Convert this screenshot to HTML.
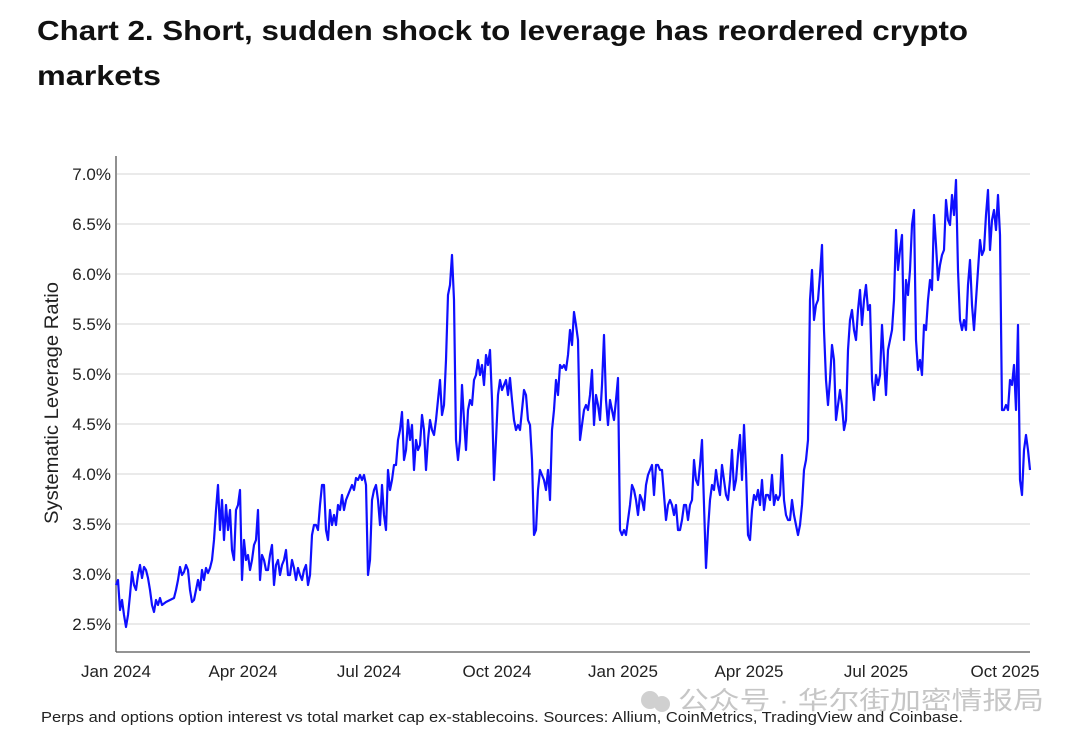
<!DOCTYPE html>
<html><head><meta charset="utf-8"><style>
html,body{margin:0;padding:0;background:#fff;}
svg{display:block;}
text{font-family:"Liberation Sans",Arial,sans-serif;}
</style></head><body>
<svg width="1080" height="744" viewBox="0 0 1080 744" xmlns="http://www.w3.org/2000/svg">
<text x="37" y="40" font-size="28" font-weight="bold" fill="#111" textLength="931" lengthAdjust="spacingAndGlyphs">Chart 2. Short, sudden shock to leverage has reordered crypto</text>
<text x="37" y="85" font-size="28" font-weight="bold" fill="#111" textLength="124" lengthAdjust="spacingAndGlyphs">markets</text>
<g stroke="#dddddd" stroke-width="1.3">
<line x1="117" x2="1030" y1="174" y2="174"/><line x1="117" x2="1030" y1="224" y2="224"/>
<line x1="117" x2="1030" y1="274" y2="274"/><line x1="117" x2="1030" y1="324" y2="324"/>
<line x1="117" x2="1030" y1="374" y2="374"/><line x1="117" x2="1030" y1="424" y2="424"/>
<line x1="117" x2="1030" y1="474" y2="474"/><line x1="117" x2="1030" y1="524" y2="524"/>
<line x1="117" x2="1030" y1="574" y2="574"/><line x1="117" x2="1030" y1="624" y2="624"/>
</g>
<line x1="116" y1="156" x2="116" y2="652" stroke="#555" stroke-width="1.3"/>
<line x1="116" y1="652" x2="1030" y2="652" stroke="#555" stroke-width="1.3"/>
<g font-size="17" fill="#222" text-anchor="end">
<text x="111" y="180">7.0%</text><text x="111" y="230">6.5%</text><text x="111" y="280">6.0%</text>
<text x="111" y="330">5.5%</text><text x="111" y="380">5.0%</text><text x="111" y="430">4.5%</text>
<text x="111" y="480">4.0%</text><text x="111" y="530">3.5%</text><text x="111" y="580">3.0%</text>
<text x="111" y="630">2.5%</text>
</g>
<text transform="translate(58,403) rotate(-90)" font-size="19" fill="#222" text-anchor="middle" textLength="242" lengthAdjust="spacingAndGlyphs">Systematic Leverage Ratio</text>
<g font-size="17" fill="#222" text-anchor="middle">
<text x="116" y="677">Jan 2024</text><text x="243" y="677">Apr 2024</text><text x="369" y="677">Jul 2024</text>
<text x="497" y="677">Oct 2024</text><text x="623" y="677">Jan 2025</text><text x="749" y="677">Apr 2025</text>
<text x="876" y="677">Jul 2025</text><text x="1005" y="677">Oct 2025</text>
</g>
<polyline fill="none" stroke="#0f0fff" stroke-width="2.2" stroke-linejoin="round" points="116,585 118,580 120,610 122,600 124,615 126,627 128,615 130,595 132,572 134,585 136,590 138,575 140,565 142,578 144,567 146,570 148,578 150,590 152,605 154,612 156,600 158,605 160,598 162,605 166,602 170,600 174,598 176,590 178,580 180,567 182,575 184,572 186,565 188,570 190,590 192,602 194,600 196,590 198,580 200,590 202,570 204,580 206,568 208,573 210,568 212,560 214,540 216,510 218,485 220,530 222,500 224,540 226,505 228,530 230,510 232,550 234,560 236,510 238,505 240,490 242,580 244,540 246,560 248,555 250,570 252,560 254,545 256,540 258,510 260,580 262,555 264,560 266,570 268,570 270,555 272,545 274,585 276,565 278,560 280,575 282,565 284,560 286,550 288,575 290,575 292,560 294,568 296,580 298,568 300,575 302,580 304,570 306,565 308,585 310,575 312,535 314,525 316,525 318,530 320,505 322,485 324,485 326,530 328,540 330,510 332,525 334,515 336,525 338,505 340,510 342,495 344,510 346,500 348,495 350,490 352,485 354,490 356,478 358,480 360,475 362,480 364,475 366,485 368,575 370,560 372,500 374,490 376,485 378,500 380,525 382,485 384,515 386,530 388,470 390,490 392,480 394,465 396,465 398,440 400,430 402,412 404,460 406,450 408,420 410,440 412,425 414,470 416,440 418,450 420,445 422,415 424,430 426,470 428,440 430,420 432,430 434,435 436,420 438,400 440,380 442,415 444,405 446,360 448,295 450,285 452,255 454,300 456,440 458,460 460,440 462,385 464,420 466,450 468,410 470,400 472,405 474,380 476,375 478,360 480,375 482,365 484,385 486,355 488,365 490,350 492,400 494,480 496,440 498,395 500,380 502,390 504,385 506,380 508,395 510,378 512,400 514,420 516,430 518,425 520,430 522,410 524,390 526,395 528,420 530,425 532,460 534,535 536,530 538,490 540,470 542,475 544,480 546,490 548,470 550,500 552,430 554,410 556,380 558,395 560,365 562,368 564,365 566,370 568,355 570,330 572,345 574,312 576,325 578,340 580,440 582,425 584,410 586,405 588,410 590,395 592,370 594,425 596,395 598,405 600,420 602,385 604,335 606,400 608,425 610,400 612,410 614,420 616,400 618,378 620,530 622,535 624,530 626,535 628,520 630,505 632,485 634,490 636,500 638,515 640,495 642,500 644,510 646,485 648,475 650,470 652,465 654,495 656,465 658,465 660,470 662,470 664,495 666,520 668,505 670,500 672,505 674,515 676,505 678,530 680,530 682,520 684,505 686,505 688,520 690,505 692,500 694,460 696,480 698,485 700,465 702,440 704,505 706,568 708,530 710,500 712,485 714,490 716,470 718,485 720,495 722,465 724,480 726,495 728,500 730,480 732,450 734,490 736,480 738,455 740,435 742,480 744,425 746,470 748,535 750,540 752,510 754,495 756,500 758,490 760,505 762,480 764,510 766,495 768,495 770,500 772,475 774,505 776,495 778,500 780,495 782,455 784,500 786,515 788,520 790,520 792,500 794,515 796,525 798,535 800,525 802,505 804,470 806,460 808,440 810,300 812,270 814,320 816,305 818,300 820,275 822,245 824,330 826,380 828,405 830,380 832,345 834,360 836,420 838,405 840,390 842,405 844,430 846,420 848,350 850,320 852,310 854,330 856,340 858,310 860,290 862,325 864,300 866,285 868,310 870,305 872,380 874,400 876,375 878,385 880,375 882,325 884,360 886,395 888,350 890,340 892,330 894,300 896,230 898,270 900,250 902,235 904,340 906,280 908,295 910,270 912,225 914,210 916,340 918,370 920,360 922,375 924,325 926,330 928,300 930,280 932,290 934,215 936,245 938,280 940,265 942,255 944,250 946,200 948,220 950,225 952,195 954,215 956,180 958,270 960,320 962,330 964,320 966,330 968,285 970,260 972,305 974,330 976,300 978,270 980,240 982,255 984,250 986,215 988,190 990,250 992,220 994,210 996,230 998,195 1000,235 1002,410 1004,410 1006,405 1008,410 1010,380 1012,385 1014,365 1016,410 1018,325 1020,480 1022,495 1024,450 1026,435 1028,450 1030,470"/>
<text x="41" y="722" font-size="15" fill="#222" textLength="922" lengthAdjust="spacingAndGlyphs">Perps and options option interest vs total market cap ex-stablecoins. Sources: Allium, CoinMetrics, TradingView and Coinbase.</text>
<g opacity="0.55">
<circle cx="650" cy="700" r="9" fill="#aaa"/><circle cx="662" cy="704" r="8" fill="#aaa"/>
<text x="678" y="709" font-size="25" fill="#999" font-family="'Liberation Sans','Noto Sans CJK SC',sans-serif" textLength="366" lengthAdjust="spacingAndGlyphs">公众号 · 华尔街加密情报局</text>
</g>
</svg>
</body></html>
